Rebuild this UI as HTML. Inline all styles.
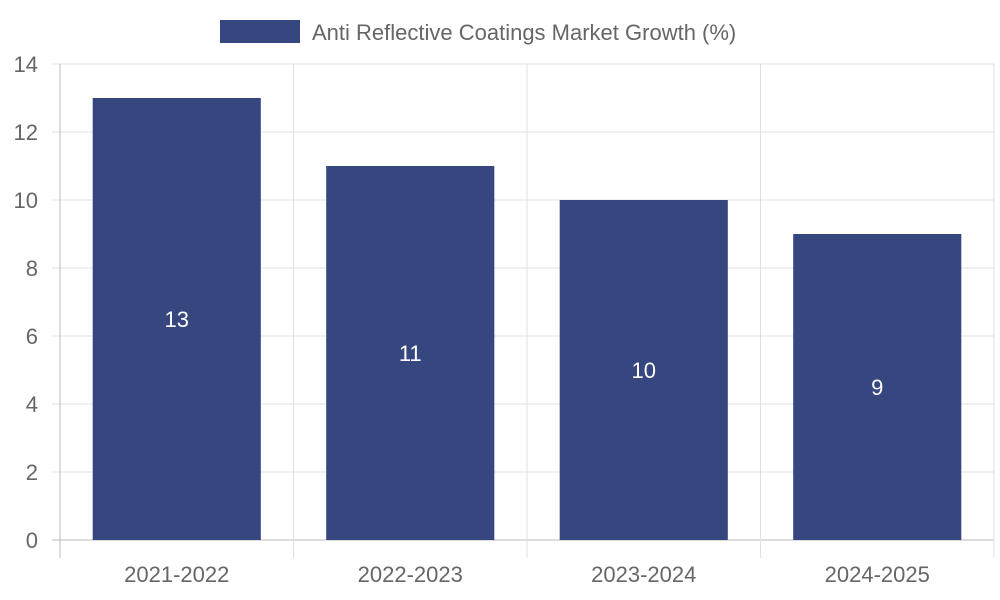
<!DOCTYPE html>
<html><head><meta charset="utf-8"><style>
body{margin:0;background:#fff;}
svg{display:block;font-family:"Liberation Sans",sans-serif;}
</style></head><body>
<svg id="chart" width="1000" height="600">
<g id="grid"></g>
<g id="bars"></g>
<g id="labels"></g>
<g>
<rect x="220" y="20" width="80" height="23" fill="#36467f"/>
<text x="312" y="40" font-size="22" fill="#666">Anti Reflective Coatings Market Growth (%)</text>
</g>
</svg>
<script>
const categories=["2021-2022","2022-2023","2023-2024","2024-2025"];
const values=[13,11,10,9];
const yTicks=[0,2,4,6,8,10,12,14];
const ns="http://www.w3.org/2000/svg";
const L=60,R=994,T=64,B=540,yMax=14;
const y=v=>B-(v/yMax)*(B-T);
const bw=(R-L)/categories.length;
const x=i=>L+bw*i;
const grid=document.getElementById('grid'),bars=document.getElementById('bars'),labels=document.getElementById('labels');
function mk(tag,attrs,parent){const e=document.createElementNS(ns,tag);for(const k in attrs)e.setAttribute(k,attrs[k]);parent.appendChild(e);return e;}
yTicks.forEach(t=>{
 const l=mk('line',{x1:L-8,x2:R,y1:y(t),y2:y(t),stroke:t===0?'#bbb':'#e0e0e0','stroke-width':1},grid);
 
 
 const tx=mk('text',{x:38,y:y(t)+8,'text-anchor':'end','font-size':22,fill:'#666'},labels);
 tx.textContent=t;
 
 
});
for(let i=0;i<=categories.length;i++){
 const l=mk('line',{x1:x(i),x2:x(i),y1:T,y2:B+18,stroke:i===0?'#bbb':'#e0e0e0','stroke-width':1},grid);
 
 
}
categories.forEach((c,i)=>{
 const bx=x(i)+bw*0.14,w=bw*0.72;
 const r=mk('rect',{x:bx,y:y(values[i]),width:w,height:B-y(values[i]),fill:'#36467f'},bars);
 
 
 const v=mk('text',{x:bx+w/2,y:(y(values[i])+B)/2+8,'text-anchor':'middle','font-size':22,fill:'#fff'},bars);
 v.textContent=values[i];
 
 
 const tx=mk('text',{x:x(i)+bw/2,y:582,'text-anchor':'middle','font-size':22,fill:'#666'},labels);
 tx.textContent=c;
 
 
});
</script>
</body></html>
